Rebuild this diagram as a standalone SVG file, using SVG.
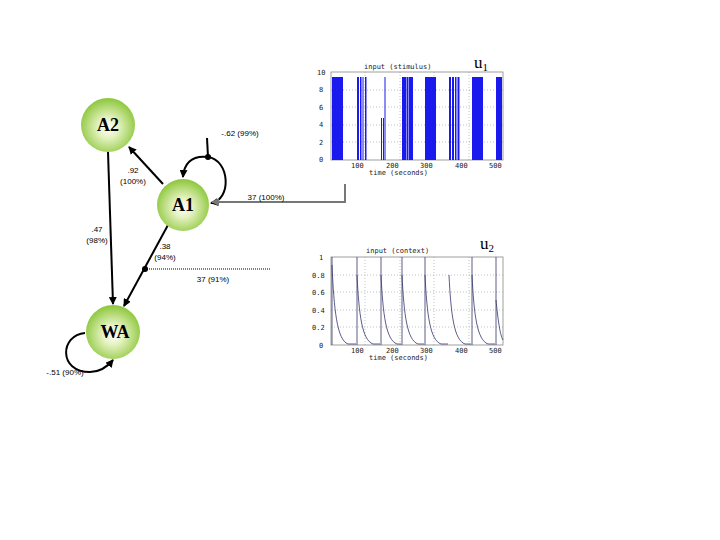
<svg xmlns="http://www.w3.org/2000/svg" width="720" height="540" viewBox="0 0 720 540">
<defs>
<radialGradient id="g" cx="0.5" cy="0.55" r="0.55">
<stop offset="0" stop-color="#ffffff"/><stop offset="0.35" stop-color="#e4f2c0"/><stop offset="1" stop-color="#8cc63a"/>
</radialGradient>
<marker id="ah" markerWidth="8" markerHeight="8" refX="7" refY="4" orient="auto" markerUnits="userSpaceOnUse"><path d="M0,0 L8,4 L0,8 z" fill="#000"/></marker>
<marker id="ahg" markerWidth="8" markerHeight="8" refX="7" refY="4" orient="auto" markerUnits="userSpaceOnUse"><path d="M0,0 L8,4 L0,8 z" fill="#777"/></marker>
</defs>
<style>
.n{fill:url(#g)}
.nt{font-family:"Liberation Serif",serif;font-weight:bold;font-size:18px;text-anchor:middle}
.lb{font-family:"Liberation Sans",sans-serif;font-size:8px;text-anchor:middle}
.e{stroke:#000;stroke-width:2;fill:none}
.ax{font-family:"DejaVu Sans Mono",monospace;font-size:7px;fill:#222}
.bar{fill:#1a1aee}
.gr{stroke:#999;stroke-width:0.6;stroke-dasharray:1,2}
.u{font-family:"Liberation Serif",serif;font-size:17px}
</style>
<rect width="720" height="540" fill="#fff"/>
<g id="connectors">
<line class="e" x1="163" y1="184" x2="129" y2="147" marker-end="url(#ah)"/>
<line class="e" x1="108" y1="152" x2="113" y2="304" marker-end="url(#ah)"/>
<line class="e" x1="168" y1="225" x2="124" y2="306" marker-end="url(#ah)"/>
<line class="e" x1="207" y1="138" x2="208" y2="157"/>
<path class="e" d="M208,157 C190,155 184,165 183,177" marker-end="url(#ah)"/>
<path class="e" d="M208,157 C230,160 232,200 211,203" marker-end="url(#ah)"/>
<circle cx="208" cy="157" r="3"/>
<path d="M345,184 V202 H212" stroke="#777" stroke-width="2" fill="none" marker-end="url(#ahg)"/>
<line x1="145" y1="269" x2="270" y2="269" stroke="#000" stroke-width="1.2" stroke-dasharray="1,1"/>
<circle cx="145" cy="269" r="3"/>
<path class="e" d="M85,333 C60,335 58,372 90,372 C100,372 108,366 113,360" marker-end="url(#ah)"/>
</g>
<g id="A2"><circle class="n" cx="108" cy="125" r="27"/><text class="nt" x="108" y="131">A2</text></g>
<g id="A1"><circle class="n" cx="183" cy="205" r="26"/><text class="nt" x="183" y="211">A1</text></g>
<g id="WA"><circle class="n" cx="113" cy="332" r="27"/><text class="nt" x="115" y="338">WA</text></g>
<g id="labels">
<text class="lb" x="240" y="136">-.62 (99%)</text>
<text class="lb" x="133" y="173">.92</text><text class="lb" x="133" y="184">(100%)</text>
<text class="lb" x="266" y="200">37 (100%)</text>
<text class="lb" x="97" y="232">.47</text><text class="lb" x="97" y="243">(98%)</text>
<text class="lb" x="165" y="249">.38</text><text class="lb" x="165" y="260">(94%)</text>
<text class="lb" x="213" y="282">37 (91%)</text>
<text class="lb" x="65" y="375">-.51 (90%)</text>
</g>
<g id="plot1">
<rect x="331" y="72" width="172" height="88" fill="#fff" stroke="#888" stroke-width="0.8"/>
<g class="gr"><line x1="365" y1="72" x2="365" y2="160"/><line x1="400" y1="72" x2="400" y2="160"/><line x1="434" y1="72" x2="434" y2="160"/><line x1="469" y1="72" x2="469" y2="160"/>
<line x1="331" y1="90" x2="503" y2="90"/><line x1="331" y1="107" x2="503" y2="107"/><line x1="331" y1="125" x2="503" y2="125"/><line x1="331" y1="142" x2="503" y2="142"/></g>
<rect class="bar" x="332" y="77" width="11" height="83"/>
<rect class="bar" x="357" y="77" width="2" height="83"/><rect class="bar" x="360" y="77" width="1.5" height="83"/><rect class="bar" x="362.5" y="77" width="1" height="83"/><rect class="bar" x="365" y="77" width="1.5" height="83"/>
<rect class="bar" x="381" y="118" width="1" height="42"/><rect class="bar" x="383" y="118" width="1" height="42"/><rect class="bar" x="384.5" y="77" width="1" height="83"/>
<rect class="bar" x="402" y="77" width="4" height="83"/><rect class="bar" x="406.5" y="77" width="1.5" height="83"/><rect class="bar" x="408.5" y="77" width="4.5" height="83"/>
<rect class="bar" x="425" y="77" width="11" height="83"/>
<rect class="bar" x="449" y="77" width="2" height="83"/><rect class="bar" x="452" y="77" width="2" height="83"/><rect class="bar" x="455" y="77" width="1.5" height="83"/><rect class="bar" x="457.5" y="77" width="2" height="83"/>
<rect class="bar" x="472" y="77" width="11" height="83"/>
<rect class="bar" x="496" y="77" width="6" height="83"/>
<text class="ax" x="364" y="69">input (stimulus)</text>
<text class="ax" x="317" y="75">10</text><text class="ax" x="319" y="92">8</text><text class="ax" x="319" y="110">6</text><text class="ax" x="319" y="127">4</text><text class="ax" x="319" y="145">2</text><text class="ax" x="319" y="162">0</text>
<text class="ax" x="351" y="168">100</text><text class="ax" x="386" y="168">200</text><text class="ax" x="420" y="168">300</text><text class="ax" x="455" y="168">400</text><text class="ax" x="489" y="168">500</text>
<text class="ax" x="369" y="175">time (seconds)</text>
<text class="u" x="474" y="68">u<tspan font-size="11" dy="3">1</tspan></text>
</g>
<g id="plot2">
<rect x="331" y="257" width="172" height="88" fill="#fff" stroke="#888" stroke-width="0.8"/>
<g class="gr"><line x1="365" y1="257" x2="365" y2="345"/><line x1="400" y1="257" x2="400" y2="345"/><line x1="434" y1="257" x2="434" y2="345"/><line x1="469" y1="257" x2="469" y2="345"/>
<line x1="331" y1="275" x2="503" y2="275"/><line x1="331" y1="292" x2="503" y2="292"/><line x1="331" y1="310" x2="503" y2="310"/><line x1="331" y1="327" x2="503" y2="327"/></g>
<g stroke="#33336a" stroke-width="0.8" fill="none">
<path d="M332,257 V345 M332,265 C334,310 337,340 348,344 H356"/>
<path d="M357,257 V345 M357,275 C359,315 362,340 373,344 H380"/>
<path d="M381,257 V345 M381,275 C383,315 386,340 397,344 H401"/>
<path d="M402,257 V345 M402,275 C404,315 407,340 418,344 H424"/>
<path d="M425,257 V345 M425,275 C427,315 430,340 441,344 H448"/>
<path d="M449,275 C451,315 454,340 465,344 H471"/>
<path d="M472,257 V345 M472,275 C474,315 477,340 488,344 H495"/>
<path d="M496,257 V345 M496,300 C498,320 500,335 503,340"/>
</g>
<text class="ax" x="366" y="253">input (context)</text>
<text class="ax" x="319" y="260">1</text><text class="ax" x="312" y="278">0.8</text><text class="ax" x="312" y="295">0.6</text><text class="ax" x="312" y="313">0.4</text><text class="ax" x="312" y="330">0.2</text><text class="ax" x="319" y="348">0</text>
<text class="ax" x="351" y="353">100</text><text class="ax" x="386" y="353">200</text><text class="ax" x="420" y="353">300</text><text class="ax" x="455" y="353">400</text><text class="ax" x="489" y="353">500</text>
<text class="ax" x="369" y="360">time (seconds)</text>
<text class="u" x="480" y="249">u<tspan font-size="11" dy="3">2</tspan></text>
</g>
</svg>
